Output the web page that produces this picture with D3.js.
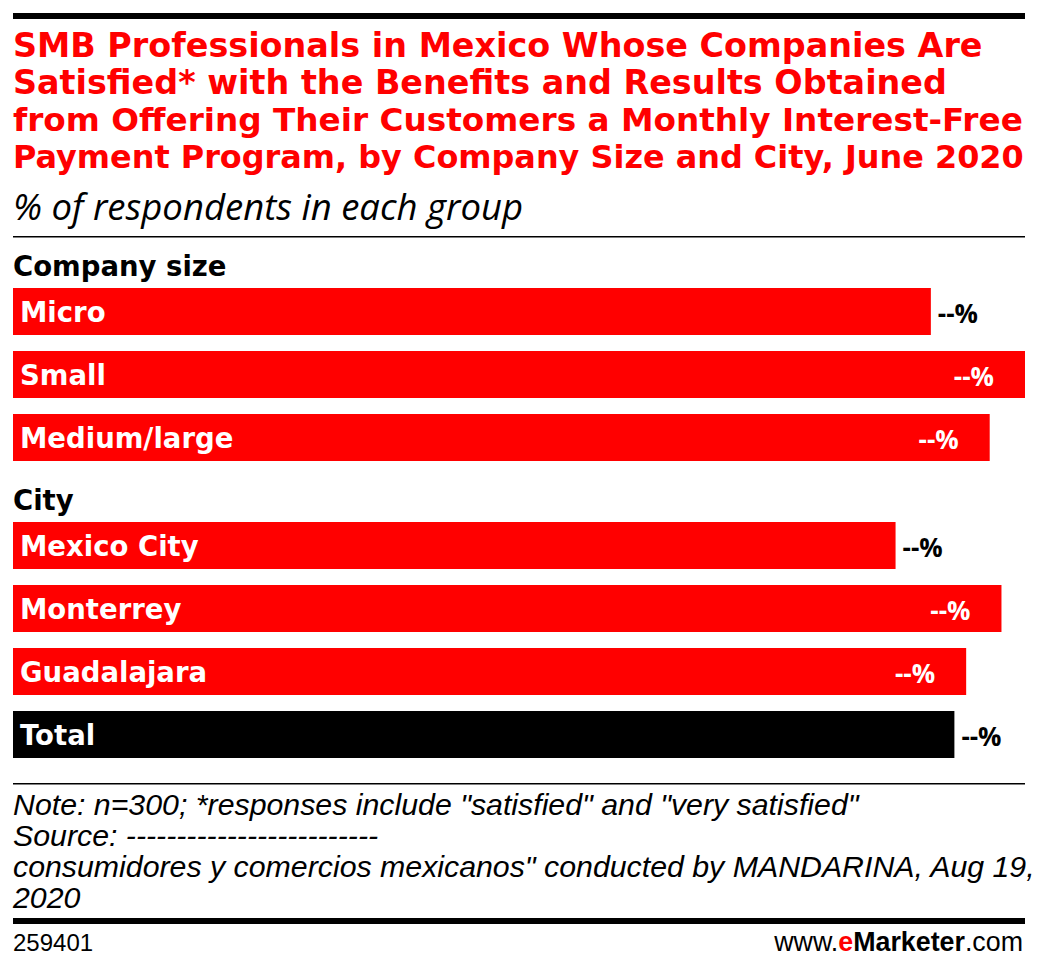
<!DOCTYPE html>
<html>
<head>
<meta charset="utf-8">
<script src="https://cdn.jsdelivr.net/npm/d3@7"></script>
<style>
  html, body { margin: 0; padding: 0; background: #fff; }
  svg { display: block; }
</style>
</head>
<body>
<svg id="chart" width="1038" height="970"></svg>
<script>
// data (labels print "--%" in the original)
const GROUPS = ['Company size', 'City', ''];
const CATEGORIES = ['Micro', 'Small', 'Medium/large', 'Mexico City', 'Monterrey', 'Guadalajara', 'Total'];
const CATEGORY_GROUP = [0, 0, 0, 1, 1, 1, 1];
const VALUES = [78, 86, 83, 75, 84, 81, 80];
const VALUE_LABELS = ['--%', '--%', '--%', '--%', '--%', '--%', '--%'];
const TITLE_LINES = [
    'SMB Professionals in Mexico Whose Companies Are',
    'Satisfied* with the Benefits and Results Obtained',
    'from Offering Their Customers a Monthly Interest-Free',
    'Payment Program, by Company Size and City, June 2020'
];
const SUBTITLE = '% of respondents in each group';
const NOTE_LINES = [
    'Note: n=300; *responses include "satisfied" and "very satisfied"',
    'Source: -------------------------',
    'consumidores y comercios mexicanos" conducted by MANDARINA, Aug 19,',
    '2020'
];
const CHART_ID = '259401';

const LEFT = 13;
const RIGHT = 1025;
const MAX_TEXT_RIGHT = 1026;
const RED = '#ff0000';
const BLACK = '#000';
const FONT_BOLD = '"DejaVu Sans", Verdana, sans-serif';
const FONT_ITALIC = '"Open Sans", Lato, sans-serif';
const FONT_NOTE = '"Liberation Sans", Arial, sans-serif';
const TITLE_SIZE = 33.4;

const svg = d3.select('#chart');
const g = svg.append('g');

// top rule
g.append('rect')
    .attr('x', LEFT).attr('y', 13)
    .attr('width', RIGHT - LEFT).attr('height', 6)
    .attr('fill', BLACK);

// title
TITLE_LINES.forEach(function (line, i) {
    let t = g.append('text')
        .text(line)
        .attr('x', LEFT)
        .attr('y', 57 + i * 37)
        .attr('fill', RED)
        .attr('font-family', FONT_BOLD)
        .attr('font-weight', 'bold')
        .attr('font-size', TITLE_SIZE);
    // shrink the long lines a touch so they stay inside the page
    let len = t.node().getComputedTextLength();
    if (LEFT + len > MAX_TEXT_RIGHT) {
        t.attr('font-size', Math.floor(TITLE_SIZE * (MAX_TEXT_RIGHT - LEFT) / len * 10) / 10);
    }
});

g.append('text')
    .text(SUBTITLE)
    .attr('x', LEFT)
    .attr('y', 220)
    .attr('fill', BLACK)
    .attr('font-family', FONT_ITALIC)
    .attr('font-style', 'italic')
    .attr('font-size', 36.5);

g.append('rect')
    .attr('x', LEFT).attr('y', 236)
    .attr('width', RIGHT - LEFT).attr('height', 1.5)
    .attr('fill', BLACK);

// scales
const GROUP_GAP = 45;
const x = d3.scaleLinear()
    .domain([0, d3.max(VALUES)])
    .range([LEFT, RIGHT]);

const y = d3.scaleBand()
    .domain(CATEGORIES)
    .range([288, 288 + 6 * 63 + 47])
    .paddingInner(16 / 63)
    .paddingOuter(0);

let rowY = (i) => y(CATEGORIES[i]) + (CATEGORY_GROUP[i] > 0 ? GROUP_GAP : 0);

// group headings
[0, 3].forEach(function (rowIndex, k) {
    g.append('text')
        .text(GROUPS[k])
        .attr('x', LEFT)
        .attr('y', rowY(rowIndex) - 12)
        .attr('font-family', FONT_BOLD)
        .attr('font-weight', 'bold')
        .attr('font-size', 27.5)
        .attr('fill', BLACK);
});

// bars
CATEGORIES.forEach(function (cat, i) {
    let top = rowY(i);
    let end = x(VALUES[i]);
    let isTotal = cat === 'Total';
    g.append('rect')
        .attr('x', x(0))
        .attr('y', top)
        .attr('width', end - x(0))
        .attr('height', y.bandwidth())
        .attr('fill', isTotal ? BLACK : RED);

    g.append('text')
        .text(cat)
        .attr('x', x(0) + 7)
        .attr('y', top + y.bandwidth() / 2 + 10.5)
        .attr('fill', '#fff')
        .attr('font-family', FONT_BOLD)
        .attr('font-weight', 'bold')
        .attr('font-size', 27.5);

    // label goes inside the bar when the bar runs close to the edge
    let inside = end > 960;
    g.append('text')
        .text(VALUE_LABELS[i])
        .attr('x', inside ? end - 31 : end + 7)
        .attr('y', top + y.bandwidth() / 2 + 11)
        .attr('text-anchor', inside ? 'end' : 'start')
        .attr('fill', inside ? '#fff' : BLACK)
        .attr('font-family', '"Open Sans", sans-serif')
        .attr('font-weight', 'bold')
        .attr('font-size', 26);
});

// notes
g.append('rect')
    .attr('x', LEFT).attr('y', 783)
    .attr('width', RIGHT - LEFT).attr('height', 1.5)
    .attr('fill', BLACK);

NOTE_LINES.forEach(function (line, i) {
    g.append('text')
        .text(line)
        .attr('x', LEFT)
        .attr('y', 815 + i * 31)
        .attr('fill', BLACK)
        .attr('font-family', FONT_NOTE)
        .attr('font-style', 'italic')
        .attr('font-size', 30.3);
});

g.append('rect')
    .attr('x', LEFT).attr('y', 918)
    .attr('width', RIGHT - LEFT).attr('height', 6)
    .attr('fill', BLACK);

// footer
g.append('text')
    .text(CHART_ID)
    .attr('x', LEFT)
    .attr('y', 951)
    .attr('font-family', FONT_NOTE)
    .attr('font-size', 24)
    .attr('fill', BLACK);

let site = g.append('text')
    .attr('x', RIGHT - 2)
    .attr('y', 951)
    .attr('text-anchor', 'end')
    .attr('font-family', FONT_NOTE)
    .attr('font-size', 26.8)
    .attr('fill', BLACK);
site.append('tspan').text('www.');
site.append('tspan').text('e').attr('fill', RED).attr('font-weight', 'bold');
site.append('tspan').text('Marketer').attr('font-weight', 'bold');
site.append('tspan').text('.com');
</script>
</body>
</html>
